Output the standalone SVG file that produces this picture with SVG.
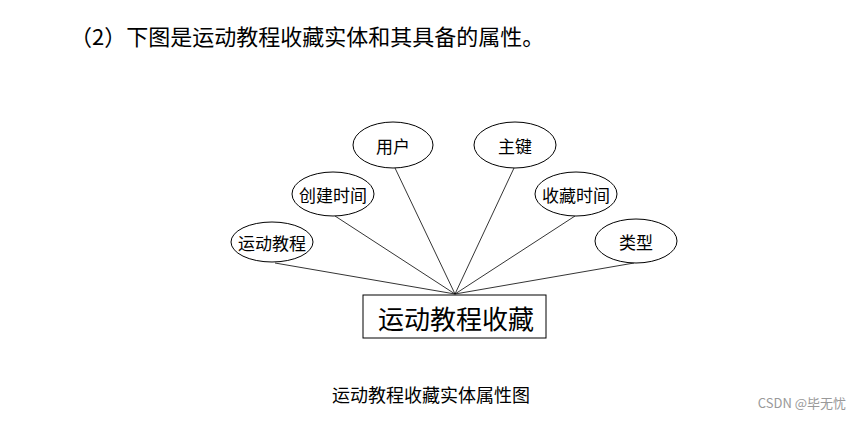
<svg xmlns="http://www.w3.org/2000/svg" width="862" height="421" viewBox="0 0 862 421">
<style>
text{font-family:"Noto Sans CJK SC","Liberation Sans",sans-serif;fill:#000}
.e{fill:#fff;stroke:#000;stroke-width:1}
.l{stroke:#000;stroke-width:0.8;fill:none}
.t{font-size:17px;text-anchor:middle;dominant-baseline:central}
</style>
<rect width="862" height="421" fill="#fff"/>
<text x="70" y="45" font-size="22">（2）下图是运动教程收藏实体和其具备的属性。</text>
<g id="connectors">
<line class="l" x1="395" y1="168" x2="455" y2="294"/>
<line class="l" x1="514" y1="168" x2="455" y2="294"/>
<line class="l" x1="335" y1="216" x2="455" y2="294"/>
<line class="l" x1="575" y1="216" x2="455" y2="294"/>
<line class="l" x1="275" y1="263" x2="455" y2="294"/>
<line class="l" x1="634" y1="263" x2="455" y2="294"/>
</g>
<g id="n-yonghu"><ellipse class="e" cx="393" cy="145" rx="40" ry="23"/><text class="t" x="393" y="145">用户</text></g>
<g id="n-zhujian"><ellipse class="e" cx="515" cy="145" rx="41" ry="23"/><text class="t" x="515" y="145">主键</text></g>
<g id="n-chuangjian"><ellipse class="e" cx="333" cy="194" rx="41" ry="22"/><text class="t" x="333" y="194">创建时间</text></g>
<g id="n-shoucang"><ellipse class="e" cx="576" cy="194" rx="41" ry="22"/><text class="t" x="576" y="194">收藏时间</text></g>
<g id="n-jiaocheng"><ellipse class="e" cx="272" cy="242" rx="41" ry="20"/><text class="t" x="272" y="242">运动教程</text></g>
<g id="n-leixing"><ellipse class="e" cx="636" cy="241" rx="41" ry="22"/><text class="t" x="636" y="241">类型</text></g>
<g id="n-entity"><rect x="363" y="295" width="183" height="43" fill="#fff" stroke="#000"/><text x="456" y="317" font-size="26" text-anchor="middle" dominant-baseline="central">运动教程收藏</text></g>
<text x="431" y="394" font-size="18" text-anchor="middle" dominant-baseline="central">运动教程收藏实体属性图</text>
<text x="846" y="408" font-size="13" text-anchor="end" style="fill:#999">CSDN @毕无忧</text>
</svg>
